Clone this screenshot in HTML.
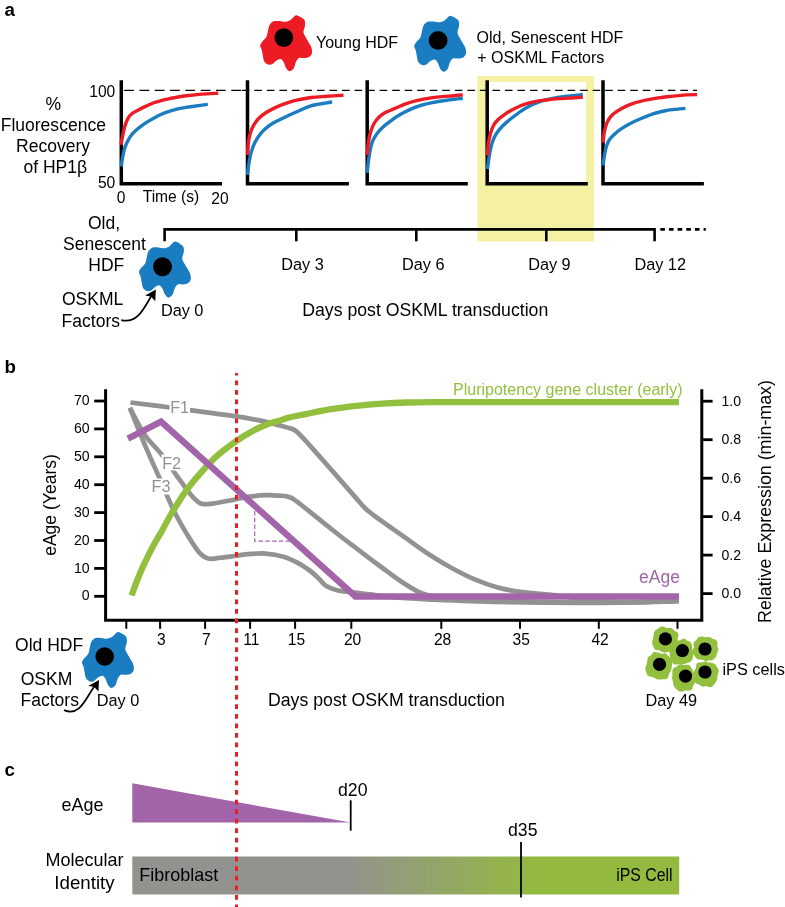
<!DOCTYPE html>
<html><head><meta charset="utf-8"><title>Figure</title>
<style>
html,body{margin:0;padding:0;background:#fff;}
svg{display:block;}
text{font-family:"Liberation Sans",Arial,Helvetica,sans-serif;fill:#000;}
.l{font-size:17.55px;}
.L{font-size:17.7px;}
.d{font-size:16.3px;}
.g{font-size:16px;}
.t{font-size:15.6px;}
.x{font-size:15px;}
.s{font-size:14.1px;}
.m{font-size:18.5px;}
.b{font-size:18.7px;font-weight:bold;}
</style></head><body>
<svg width="785" height="907" viewBox="0 0 785 907">
<rect width="785" height="907" fill="#fff"/>
<defs><path id="cell" d="M296.37 15.19C297.56 15.28 299.60 16.38 300.96 17.23C302.31 18.08 303.84 18.93 304.52 20.29C305.20 21.65 305.20 23.34 305.03 25.38C304.86 27.42 303.16 30.14 303.50 32.52C303.84 34.89 305.80 37.27 307.07 39.65C308.34 42.03 310.33 44.58 311.15 46.78C311.96 48.99 312.30 51.20 311.96 52.90C311.62 54.60 310.43 56.13 309.11 56.97C307.78 57.82 305.71 57.82 304.01 57.99C302.31 58.16 300.28 57.31 298.92 57.99C297.56 58.67 296.71 60.37 295.86 62.07C295.01 63.77 294.84 66.66 293.82 68.18C292.80 69.71 291.02 71.24 289.75 71.24C288.47 71.24 287.20 69.71 286.18 68.18C285.16 66.66 284.56 63.60 283.63 62.07C282.70 60.54 281.76 59.27 280.57 59.01C279.38 58.76 277.86 59.69 276.50 60.54C275.14 61.39 273.78 63.43 272.42 64.11C271.06 64.79 269.70 65.04 268.34 64.62C266.99 64.19 265.20 63.17 264.27 61.56C263.33 59.95 263.16 56.89 262.74 54.94C262.31 52.98 262.14 51.37 261.72 49.84C261.30 48.31 260.11 47.12 260.19 45.76C260.28 44.41 261.21 43.13 262.23 41.69C263.25 40.24 265.37 38.80 266.31 37.10C267.24 35.40 267.32 33.45 267.83 31.50C268.34 29.54 268.43 27.08 269.36 25.38C270.30 23.68 271.74 22.02 273.44 21.31C275.14 20.59 277.52 21.02 279.55 21.10C281.59 21.19 283.80 22.04 285.67 21.82C287.54 21.59 289.41 20.63 290.76 19.78C292.12 18.93 292.89 17.48 293.82 16.72C294.76 15.96 295.18 15.11 296.37 15.19Z"/></defs>

<text class="b" x="4.4" y="16.4">a</text>
<rect x="477.3" y="76" width="116.8" height="165.5" fill="#F5F1A2"/>
<rect x="487.2" y="81.9" width="98.8" height="101" fill="#fff"/>
<use href="#cell" fill="#ED1C24"/><circle cx="283.8" cy="37.6" r="9.4"/>
<use href="#cell" fill="#1A7CC1" transform="translate(154,0.5)"/><circle cx="438.1" cy="40.4" r="9.4"/>
<text class="g" x="316" y="47.6">Young HDF</text>
<text class="g" x="476.6" y="43.4">Old, Senescent HDF</text>
<text class="g" x="477.3" y="62.5">+ OSKML Factors</text>
<line x1="124.2" y1="90.3" x2="241.4" y2="90.3" stroke="#000" stroke-width="1.3" stroke-dasharray="9.7 5.6"/>
<line x1="241.8" y1="90.3" x2="697.1" y2="90.3" stroke="#000" stroke-width="1.3" stroke-dasharray="7.6 4.93"/>
<path d="M121.3 80.3V183.7H222" fill="none" stroke="#000" stroke-width="3.5"/><path d="M121.20 166.60C121.43 165.08 122.10 160.27 122.60 157.50C123.10 154.73 123.55 152.33 124.20 150.00C124.85 147.67 125.48 145.73 126.50 143.50C127.52 141.27 128.90 138.63 130.30 136.60C131.70 134.57 132.98 133.13 134.90 131.30C136.82 129.47 139.38 127.38 141.80 125.60C144.22 123.82 146.87 122.13 149.40 120.60C151.93 119.07 154.45 117.68 157.00 116.40C159.55 115.12 161.70 114.03 164.70 112.90C167.70 111.77 171.45 110.52 175.00 109.60C178.55 108.68 182.82 107.97 186.00 107.40C189.18 106.83 190.47 106.70 194.10 106.20C197.73 105.70 205.52 104.70 207.80 104.40" fill="none" stroke="#1A7CC1" stroke-width="3.4"/><path d="M121.10 144.70C121.35 143.23 121.97 139.03 122.60 135.90C123.23 132.77 124.00 128.83 124.90 125.90C125.80 122.97 126.85 120.33 128.00 118.30C129.15 116.27 130.15 115.03 131.80 113.70C133.45 112.37 135.60 111.52 137.90 110.30C140.20 109.08 143.05 107.62 145.60 106.40C148.15 105.18 150.65 103.95 153.20 103.00C155.75 102.05 158.35 101.40 160.90 100.70C163.45 100.00 166.15 99.32 168.50 98.80C170.85 98.28 172.02 98.10 175.00 97.60C177.98 97.10 181.95 96.38 186.40 95.80C190.85 95.22 196.40 94.53 201.70 94.10C207.00 93.67 215.45 93.35 218.20 93.20" fill="none" stroke="#ED1C24" stroke-width="3.4"/>
<path d="M247.5 80.3V183.7H348.9" fill="none" stroke="#000" stroke-width="3.5"/><path d="M247.45 174.90C247.69 173.00 248.24 167.38 248.90 163.50C249.56 159.62 250.40 155.08 251.40 151.60C252.40 148.12 253.57 145.33 254.90 142.60C256.23 139.87 257.75 137.43 259.40 135.20C261.05 132.97 262.57 131.18 264.80 129.20C267.03 127.22 269.82 125.12 272.80 123.30C275.78 121.48 278.90 120.13 282.70 118.30C286.50 116.47 290.88 114.37 295.60 112.30C300.32 110.23 305.82 107.47 311.00 105.90C316.18 104.33 323.18 103.58 326.70 102.90C330.22 102.22 331.20 101.98 332.10 101.80" fill="none" stroke="#1A7CC1" stroke-width="3.4"/><path d="M247.45 155.00C247.61 152.93 247.91 146.32 248.40 142.60C248.89 138.88 249.48 135.67 250.40 132.70C251.32 129.73 252.48 127.20 253.90 124.80C255.32 122.40 256.92 120.30 258.90 118.30C260.88 116.30 262.98 114.62 265.80 112.80C268.62 110.98 272.48 108.97 275.80 107.40C279.12 105.83 282.40 104.57 285.70 103.40C289.00 102.23 291.38 101.38 295.60 100.40C299.82 99.42 305.82 98.18 311.00 97.50C316.18 96.82 321.28 96.68 326.70 96.30C332.12 95.92 340.70 95.38 343.50 95.20" fill="none" stroke="#ED1C24" stroke-width="3.4"/>
<path d="M367.2 80.3V183.7H467.8" fill="none" stroke="#000" stroke-width="3.5"/><path d="M367.15 172.90C367.36 171.00 367.94 165.05 368.40 161.50C368.86 157.95 369.23 154.92 369.90 151.60C370.57 148.28 371.23 144.58 372.40 141.60C373.57 138.62 375.17 136.10 376.90 133.70C378.63 131.30 380.48 129.35 382.80 127.20C385.12 125.05 387.82 122.95 390.80 120.80C393.78 118.65 397.07 116.37 400.70 114.30C404.33 112.23 408.95 109.97 412.60 108.40C416.25 106.83 419.53 105.82 422.60 104.90C425.67 103.98 426.98 103.67 431.00 102.90C435.02 102.13 441.40 101.07 446.70 100.30C452.00 99.53 460.12 98.63 462.80 98.30" fill="none" stroke="#1A7CC1" stroke-width="3.4"/><path d="M367.15 155.00C367.36 152.93 367.86 146.32 368.40 142.60C368.94 138.88 369.48 135.83 370.40 132.70C371.32 129.57 372.48 126.37 373.90 123.80C375.32 121.23 377.08 119.13 378.90 117.30C380.72 115.47 382.32 114.20 384.80 112.80C387.28 111.40 390.32 110.38 393.80 108.90C397.28 107.42 401.73 105.32 405.70 103.90C409.67 102.48 413.38 101.40 417.60 100.40C421.82 99.40 427.43 98.48 431.00 97.90C434.57 97.32 435.10 97.27 439.00 96.90C442.90 96.53 450.43 96.03 454.40 95.70C458.37 95.37 461.40 95.03 462.80 94.90" fill="none" stroke="#ED1C24" stroke-width="3.4"/>
<path d="M487.2 80.3V183.7H587.8" fill="none" stroke="#000" stroke-width="3.5"/><path d="M487.45 168.90C487.69 167.17 488.41 161.72 488.90 158.50C489.39 155.28 489.73 152.58 490.40 149.60C491.07 146.62 491.82 143.42 492.90 140.60C493.98 137.78 495.25 135.18 496.90 132.70C498.55 130.22 500.48 128.02 502.80 125.70C505.12 123.38 507.82 121.20 510.80 118.80C513.78 116.40 517.40 113.53 520.70 111.30C524.00 109.07 527.28 107.05 530.60 105.40C533.92 103.75 537.20 102.52 540.60 101.40C544.00 100.28 546.65 99.55 551.00 98.70C555.35 97.85 561.40 97.00 566.70 96.30C572.00 95.60 580.12 94.80 582.80 94.50" fill="none" stroke="#1A7CC1" stroke-width="3.4"/><path d="M487.45 155.50C487.61 153.52 487.91 147.23 488.40 143.60C488.89 139.97 489.57 136.68 490.40 133.70C491.23 130.72 492.15 128.02 493.40 125.70C494.65 123.38 496.00 121.70 497.90 119.80C499.80 117.90 502.15 116.12 504.80 114.30C507.45 112.48 510.32 110.63 513.80 108.90C517.28 107.17 521.57 105.23 525.70 103.90C529.83 102.57 534.38 101.65 538.60 100.90C542.82 100.15 547.58 99.78 551.00 99.40C554.42 99.02 555.20 98.87 559.10 98.60C563.00 98.33 570.45 98.03 574.40 97.80C578.35 97.57 581.40 97.30 582.80 97.20" fill="none" stroke="#ED1C24" stroke-width="3.4"/>
<path d="M603 80.3V183.7H703.9" fill="none" stroke="#000" stroke-width="3.5"/><path d="M602.96 165.50C603.20 163.83 603.83 158.65 604.40 155.50C604.97 152.35 605.57 149.23 606.40 146.60C607.23 143.97 608.15 141.68 609.40 139.70C610.65 137.72 612.00 136.45 613.90 134.70C615.80 132.95 618.15 131.02 620.80 129.20C623.45 127.38 626.32 125.62 629.80 123.80C633.28 121.98 637.57 120.05 641.70 118.30C645.83 116.55 650.38 114.62 654.60 113.30C658.82 111.98 663.68 111.05 667.00 110.40C670.32 109.75 671.42 109.73 674.50 109.40C677.58 109.07 683.67 108.57 685.50 108.40" fill="none" stroke="#1A7CC1" stroke-width="3.4"/><path d="M602.96 142.60C603.20 140.78 603.74 135.00 604.40 131.70C605.06 128.40 605.82 125.37 606.90 122.80C607.98 120.23 609.23 118.20 610.90 116.30C612.57 114.40 614.58 112.97 616.90 111.40C619.22 109.83 621.83 108.32 624.80 106.90C627.77 105.48 631.05 104.07 634.70 102.90C638.35 101.73 643.05 100.70 646.70 99.90C650.35 99.10 653.22 98.62 656.60 98.10C659.98 97.58 661.98 97.33 667.00 96.80C672.02 96.27 681.68 95.27 686.70 94.90C691.72 94.53 695.37 94.65 697.10 94.60" fill="none" stroke="#ED1C24" stroke-width="3.4"/>
<text class="t" x="115.3" y="97.4" text-anchor="end">100</text>
<text class="t" x="115.3" y="187.8" text-anchor="end">50</text>
<text class="t" x="121.2" y="203.1" text-anchor="middle">0</text>
<text class="t" x="171" y="202.4" text-anchor="middle">Time (s)</text>
<text class="t" x="220" y="204.3" text-anchor="middle">20</text>
<text class="l" x="53.3" y="110.4" text-anchor="middle">%</text>
<text class="l" x="53.3" y="131.4" text-anchor="middle">Fluorescence</text>
<text class="l" x="53" y="151.6" text-anchor="middle">Recovery</text>
<text class="l" x="55.3" y="172.8" text-anchor="middle">of HP1β</text>
<path d="M164.6 241.3V229.4H654.6V241.3" fill="none" stroke="#000" stroke-width="2.6"/>
<line x1="296.3" y1="229" x2="296.3" y2="241.3" stroke="#000" stroke-width="2.6"/>
<line x1="416.3" y1="229" x2="416.3" y2="241.3" stroke="#000" stroke-width="2.6"/>
<line x1="546.3" y1="229" x2="546.3" y2="241.3" stroke="#000" stroke-width="2.6"/>
<line x1="660.3" y1="229.4" x2="705.8" y2="229.4" stroke="#000" stroke-width="2.7" stroke-dasharray="4.6 4.06"/>
<text class="d" x="302.5" y="270" text-anchor="middle">Day 3</text>
<text class="d" x="423.3" y="270" text-anchor="middle">Day 6</text>
<text class="d" x="549.4" y="270" text-anchor="middle">Day 9</text>
<text class="d" x="660.2" y="270" text-anchor="middle">Day 12</text>
<text class="d" x="160.9" y="316.1">Day 0</text>
<text class="L" x="302.2" y="316.3">Days post OSKML transduction</text>
<text class="l" x="104" y="228.8" text-anchor="middle">Old,</text>
<text class="l" x="104.5" y="249.8" text-anchor="middle">Senescent</text>
<text class="l" x="106.3" y="270.9" text-anchor="middle">HDF</text>
<text class="l" x="61.9" y="305.1">OSKML</text>
<text class="l" x="61.6" y="326.5">Factors</text>
<use href="#cell" fill="#1A7CC1" transform="translate(-121.2,226.4)"/><circle cx="162.5" cy="266.8" r="9.5"/>
<path d="M121.3 320.1C137 324 143.5 309.5 151.37 295.76" fill="none" stroke="#000" stroke-width="1.7"/><path d="M155.90 289.60L145.08 295.54L150.90 296.40L155.25 301.29Z"/>
<text class="b" x="4.4" y="373.2">b</text>
<path d="M130.50 402.50C135.42 403.12 149.85 404.90 160.00 406.20C170.15 407.50 178.65 408.60 191.40 410.30C204.15 412.00 224.23 414.52 236.50 416.40C248.77 418.28 257.75 420.07 265.00 421.60C272.25 423.13 275.83 424.50 280.00 425.60C284.17 426.70 287.33 427.27 290.00 428.20C292.67 429.13 293.50 429.20 296.00 431.20C298.50 433.20 299.33 434.02 305.00 440.20C310.67 446.38 321.67 458.85 330.00 468.30C338.33 477.75 349.33 490.42 355.00 496.90C360.67 503.38 361.63 504.72 364.00 507.20C366.37 509.68 367.20 510.17 369.20 511.80C371.20 513.43 372.53 514.47 376.00 517.00C379.47 519.53 385.02 523.47 390.00 527.00C394.98 530.53 399.43 533.67 405.90 538.20C412.37 542.73 421.17 549.23 428.80 554.20C436.43 559.17 444.05 563.80 451.70 568.00C459.35 572.20 467.05 576.15 474.70 579.40C482.35 582.65 490.73 585.53 497.60 587.50C504.47 589.47 508.83 590.15 515.90 591.20C522.97 592.25 532.65 593.00 540.00 593.80C547.35 594.60 550.00 594.83 560.00 596.00C570.00 597.17 586.67 599.83 600.00 600.80C613.33 601.77 626.83 601.80 640.00 601.80C653.17 601.80 672.50 600.97 679.00 600.80" fill="none" stroke="#929291" stroke-width="4.7"/>
<path d="M129.90 407.90C132.37 412.37 139.42 426.93 144.70 434.70C149.98 442.47 156.30 447.73 161.60 454.50C166.90 461.27 171.70 468.68 176.50 475.30C181.30 481.92 186.77 489.73 190.40 494.20C194.03 498.67 196.15 500.45 198.30 502.10C200.45 503.75 201.02 503.85 203.30 504.10C205.58 504.35 207.55 504.20 212.00 503.60C216.45 503.00 224.03 501.62 230.00 500.50C235.97 499.38 241.85 497.78 247.80 496.90C253.75 496.02 260.35 495.40 265.70 495.20C271.05 495.00 276.33 495.47 279.90 495.70C283.47 495.93 284.72 495.95 287.10 496.60C289.48 497.25 290.33 497.02 294.20 499.60C298.07 502.18 303.17 506.45 310.30 512.10C317.43 517.75 329.32 527.45 337.00 533.50C344.68 539.55 348.92 542.73 356.40 548.40C363.88 554.07 374.32 561.90 381.90 567.50C389.48 573.10 395.60 577.83 401.90 582.00C408.20 586.17 414.60 590.10 419.70 592.50C424.80 594.90 427.45 595.40 432.50 596.40C437.55 597.40 442.08 597.90 450.00 598.50C457.92 599.10 461.67 599.37 480.00 600.00C498.33 600.63 533.33 601.92 560.00 602.30C586.67 602.68 620.17 602.55 640.00 602.30C659.83 602.05 672.50 601.05 679.00 600.80" fill="none" stroke="#929291" stroke-width="4.7"/>
<path d="M129.90 407.90C132.37 414.02 139.75 432.87 144.70 444.60C149.65 456.33 154.63 467.07 159.60 478.30C164.57 489.53 169.37 501.75 174.50 512.00C179.63 522.25 186.10 532.85 190.40 539.80C194.70 546.75 197.33 550.57 200.30 553.70C203.27 556.83 205.58 557.83 208.20 558.60C210.82 559.37 212.37 558.62 216.00 558.30C219.63 557.98 224.70 557.38 230.00 556.70C235.30 556.02 241.85 554.72 247.80 554.20C253.75 553.68 259.75 553.18 265.70 553.60C271.65 554.02 278.15 555.15 283.50 556.70C288.85 558.25 293.33 560.52 297.80 562.90C302.27 565.28 306.73 568.32 310.30 571.00C313.87 573.68 316.53 576.48 319.20 579.00C321.87 581.52 323.33 584.23 326.30 586.10C329.27 587.97 332.25 589.10 337.00 590.20C341.75 591.30 349.30 592.02 354.80 592.70C360.30 593.38 364.13 593.58 370.00 594.30C375.87 595.02 380.50 596.17 390.00 597.00C399.50 597.83 408.67 598.47 427.00 599.30C445.33 600.13 471.17 601.42 500.00 602.00C528.83 602.58 570.17 602.97 600.00 602.80C629.83 602.63 665.83 601.30 679.00 601.00" fill="none" stroke="#929291" stroke-width="4.7"/>
<rect x="169.5" y="398.5" width="20.5" height="16" fill="#fff"/>
<rect x="161.5" y="454.5" width="21" height="16" fill="#fff"/>
<rect x="150.5" y="478.5" width="21.5" height="16" fill="#fff"/>
<text x="170.2" y="412.5" font-size="16.2" style="fill:#929291">F1</text>
<text x="162.2" y="468.6" font-size="16.2" style="fill:#929291">F2</text>
<text x="151.6" y="492.2" font-size="16.2" style="fill:#929291">F3</text>
<path d="M131.60 595.50C132.45 593.17 134.58 586.80 136.70 581.50C138.82 576.20 141.55 569.63 144.30 563.70C147.05 557.77 150.23 551.42 153.20 545.90C156.17 540.38 159.30 535.58 162.10 530.60C164.90 525.62 166.13 522.47 170.00 516.00C173.87 509.53 180.20 498.97 185.30 491.80C190.40 484.63 195.50 478.82 200.60 473.00C205.70 467.18 209.92 462.25 215.90 456.90C221.88 451.55 230.13 445.35 236.50 440.90C242.87 436.45 248.62 433.10 254.10 430.20C259.58 427.30 265.08 425.12 269.40 423.50C273.72 421.88 276.57 421.53 280.00 420.50C283.43 419.47 285.75 418.37 290.00 417.30C294.25 416.23 298.67 415.45 305.50 414.10C312.33 412.75 322.52 410.57 331.00 409.20C339.48 407.83 347.92 406.82 356.40 405.90C364.88 404.98 373.40 404.27 381.90 403.70C390.40 403.13 398.90 402.77 407.40 402.50C415.90 402.23 420.80 402.17 432.90 402.10C445.00 402.03 438.98 402.10 480.00 402.10C521.02 402.10 645.83 402.10 679.00 402.10" fill="none" stroke="#92C03E" stroke-width="6.3"/>
<path d="M254.7 511V541.2H291" fill="none" stroke="#A265AA" stroke-width="1.2" stroke-dasharray="4.5 2.3"/>
<path d="M127.9 438.7L161 421.6L355.5 596.5H679" fill="none" stroke="#A265AA" stroke-width="6.4" stroke-linejoin="miter"/>
<path d="M105.6 389.2V620.3H701.8V389.3" fill="none" stroke="#000" stroke-width="3" stroke-linejoin="miter"/>
<line x1="94.2" y1="596.3" x2="105" y2="596.3" stroke="#000" stroke-width="2.8"/>
<text class="s" x="89.6" y="600.4" text-anchor="end">0</text>
<line x1="94.2" y1="568.4" x2="105" y2="568.4" stroke="#000" stroke-width="2.8"/>
<text class="s" x="89.6" y="572.5" text-anchor="end">10</text>
<line x1="94.2" y1="540.5" x2="105" y2="540.5" stroke="#000" stroke-width="2.8"/>
<text class="s" x="89.6" y="544.6" text-anchor="end">20</text>
<line x1="94.2" y1="512.6" x2="105" y2="512.6" stroke="#000" stroke-width="2.8"/>
<text class="s" x="89.6" y="516.7" text-anchor="end">30</text>
<line x1="94.2" y1="484.7" x2="105" y2="484.7" stroke="#000" stroke-width="2.8"/>
<text class="s" x="89.6" y="488.8" text-anchor="end">40</text>
<line x1="94.2" y1="456.8" x2="105" y2="456.8" stroke="#000" stroke-width="2.8"/>
<text class="s" x="89.6" y="460.9" text-anchor="end">50</text>
<line x1="94.2" y1="428.9" x2="105" y2="428.9" stroke="#000" stroke-width="2.8"/>
<text class="s" x="89.6" y="433.0" text-anchor="end">60</text>
<line x1="94.2" y1="401.0" x2="105" y2="401.0" stroke="#000" stroke-width="2.8"/>
<text class="s" x="89.6" y="405.1" text-anchor="end">70</text>
<line x1="702" y1="593.6" x2="712.6" y2="593.6" stroke="#000" stroke-width="2.8"/>
<text class="s" x="721.4" y="598.0">0.0</text>
<line x1="702" y1="555.1" x2="712.6" y2="555.1" stroke="#000" stroke-width="2.8"/>
<text class="s" x="721.4" y="559.5">0.2</text>
<line x1="702" y1="516.6" x2="712.6" y2="516.6" stroke="#000" stroke-width="2.8"/>
<text class="s" x="721.4" y="521.0">0.4</text>
<line x1="702" y1="478.2" x2="712.6" y2="478.2" stroke="#000" stroke-width="2.8"/>
<text class="s" x="721.4" y="482.6">0.6</text>
<line x1="702" y1="439.7" x2="712.6" y2="439.7" stroke="#000" stroke-width="2.8"/>
<text class="s" x="721.4" y="444.1">0.8</text>
<line x1="702" y1="401.2" x2="712.6" y2="401.2" stroke="#000" stroke-width="2.8"/>
<text class="s" x="721.4" y="405.6">1.0</text>
<line x1="126.3" y1="620" x2="126.3" y2="628.8" stroke="#000" stroke-width="2"/>
<line x1="160.1" y1="620" x2="160.1" y2="628.8" stroke="#000" stroke-width="2"/>
<text class="t" x="161.4" y="644.7" text-anchor="middle">3</text>
<line x1="205.1" y1="620" x2="205.1" y2="628.8" stroke="#000" stroke-width="2"/>
<text class="t" x="206.4" y="644.7" text-anchor="middle">7</text>
<line x1="250.1" y1="620" x2="250.1" y2="628.8" stroke="#000" stroke-width="2"/>
<text class="t" x="251.4" y="644.7" text-anchor="middle">11</text>
<line x1="295.1" y1="620" x2="295.1" y2="628.8" stroke="#000" stroke-width="2"/>
<text class="t" x="296.4" y="644.7" text-anchor="middle">15</text>
<line x1="351.3" y1="620" x2="351.3" y2="628.8" stroke="#000" stroke-width="2"/>
<text class="t" x="352.6" y="644.7" text-anchor="middle">20</text>
<line x1="441.3" y1="620" x2="441.3" y2="628.8" stroke="#000" stroke-width="2"/>
<text class="t" x="442.6" y="644.7" text-anchor="middle">28</text>
<line x1="520.0" y1="620" x2="520.0" y2="628.8" stroke="#000" stroke-width="2"/>
<text class="t" x="521.3" y="644.7" text-anchor="middle">35</text>
<line x1="598.8" y1="620" x2="598.8" y2="628.8" stroke="#000" stroke-width="2"/>
<text class="t" x="600.1" y="644.7" text-anchor="middle">42</text>
<line x1="677.5" y1="620" x2="677.5" y2="628.8" stroke="#000" stroke-width="2"/>
<text class="l" transform="translate(55.8,505) rotate(-90)" text-anchor="middle">eAge (Years)</text>
<text class="L" style="font-size:17.85px" transform="translate(771,501.5) rotate(-90)" text-anchor="middle">Relative Expression (min-max)</text>
<text class="g" x="682.5" y="395" text-anchor="end" style="fill:#92C03E">Pluripotency gene cluster (early)</text>
<text class="l" x="680" y="582.5" text-anchor="end" style="fill:#A265AA">eAge</text>
<text class="L" x="268" y="706">Days post OSKM transduction</text>
<text class="l" x="15" y="650.7">Old HDF</text>
<text class="l" x="20.7" y="685.1">OSKM</text>
<text class="l" x="20.5" y="706">Factors</text>
<text class="d" x="96.7" y="705.7">Day 0</text>
<text class="d" x="645.5" y="705.8">Day 49</text>
<text class="d" x="722.5" y="675">iPS cells</text>
<use href="#cell" fill="#1A7CC1" transform="translate(-178.2,616.8)"/><circle cx="104.7" cy="656.5" r="9.3"/>
<path d="M64.2 710.1C80 717 85.7 698.1 94.47 686.15" fill="none" stroke="#000" stroke-width="1.7"/><path d="M99.00 679.90L88.22 685.92L94.00 686.80L98.43 691.59Z"/>
<path d="M677.86 642.44C677.78 643.11 677.67 643.83 677.37 644.42C677.06 645.02 676.39 645.43 676.04 646.01C675.69 646.59 675.55 647.25 675.28 647.92C675.02 648.58 674.81 649.35 674.44 650.01C674.07 650.66 673.65 651.43 673.06 651.85C672.47 652.27 671.66 652.51 670.89 652.54C670.13 652.56 669.21 652.07 668.48 652.00C667.75 651.92 667.16 651.94 666.50 652.08C665.83 652.22 665.17 652.84 664.51 652.84C663.86 652.84 663.21 652.34 662.58 652.09C661.95 651.85 661.31 651.69 660.73 651.39C660.15 651.09 659.77 650.51 659.10 650.31C658.43 650.12 657.48 650.38 656.73 650.21C655.97 650.04 655.08 649.82 654.57 649.32C654.07 648.82 654.02 647.88 653.71 647.21C653.40 646.55 652.98 645.97 652.71 645.31C652.45 644.65 652.19 643.95 652.13 643.25C652.07 642.55 652.23 641.79 652.34 641.10C652.45 640.41 652.63 639.75 652.80 639.10C652.96 638.45 653.22 637.87 653.33 637.23C653.45 636.59 653.40 635.92 653.50 635.26C653.60 634.59 653.73 633.91 653.93 633.24C654.13 632.57 654.33 631.84 654.69 631.24C655.05 630.64 655.53 630.06 656.09 629.63C656.64 629.21 657.41 629.06 658.02 628.69C658.62 628.32 659.09 627.76 659.70 627.40C660.31 627.04 660.97 626.63 661.66 626.52C662.34 626.42 663.14 626.57 663.84 626.77C664.53 626.98 665.19 627.54 665.83 627.75C666.47 627.97 667.04 628.03 667.68 628.07C668.33 628.11 669.03 627.95 669.71 627.99C670.40 628.03 671.19 628.04 671.80 628.31C672.42 628.58 672.91 629.15 673.42 629.60C673.93 630.05 674.27 630.63 674.88 631.03C675.49 631.44 676.54 631.54 677.09 632.03C677.64 632.52 677.97 633.27 678.17 633.98C678.37 634.68 678.41 635.49 678.29 636.24C678.17 636.99 677.51 637.77 677.44 638.46C677.37 639.16 677.78 639.75 677.85 640.41C677.92 641.08 677.94 641.77 677.86 642.44Z" fill="#92C03E"/>
<path d="M692.82 649.93C692.97 650.53 692.94 651.17 692.98 651.79C693.03 652.42 693.07 653.04 693.10 653.69C693.12 654.33 693.20 655.02 693.15 655.68C693.09 656.35 692.90 656.99 692.76 657.69C692.62 658.38 692.65 659.24 692.33 659.87C692.02 660.49 691.45 661.03 690.89 661.46C690.33 661.88 689.63 662.20 688.96 662.44C688.30 662.68 687.53 662.69 686.89 662.90C686.25 663.10 685.73 663.46 685.12 663.67C684.51 663.88 683.88 664.03 683.24 664.16C682.61 664.29 681.96 664.46 681.32 664.45C680.68 664.45 680.06 664.15 679.39 664.14C678.73 664.13 678.05 664.32 677.31 664.39C676.58 664.45 675.69 664.69 674.98 664.55C674.27 664.41 673.52 664.05 673.03 663.52C672.55 662.99 672.34 662.06 672.06 661.36C671.77 660.67 671.60 659.98 671.34 659.36C671.07 658.74 670.72 658.23 670.48 657.65C670.23 657.07 669.96 656.48 669.84 655.88C669.73 655.27 669.83 654.61 669.79 653.99C669.76 653.38 669.73 652.81 669.66 652.20C669.59 651.59 669.53 651.01 669.39 650.35C669.24 649.69 668.90 648.97 668.80 648.24C668.69 647.51 668.53 646.63 668.77 645.99C669.02 645.35 669.77 644.92 670.27 644.41C670.76 643.91 671.22 643.40 671.72 642.94C672.23 642.48 672.73 642.01 673.30 641.65C673.87 641.28 674.49 640.96 675.12 640.76C675.76 640.55 676.45 640.43 677.11 640.41C677.77 640.38 678.46 640.71 679.09 640.61C679.72 640.52 680.24 640.14 680.89 639.83C681.53 639.53 682.27 638.90 682.96 638.78C683.65 638.67 684.40 638.85 685.04 639.12C685.67 639.39 686.14 640.08 686.76 640.40C687.37 640.73 688.13 640.76 688.74 641.08C689.36 641.40 689.97 641.82 690.46 642.31C690.94 642.81 691.38 643.41 691.65 644.05C691.93 644.69 692.02 645.46 692.09 646.15C692.17 646.85 691.96 647.59 692.09 648.22C692.21 648.85 692.67 649.34 692.82 649.93Z" fill="#92C03E"/>
<path d="M718.11 650.57C717.96 651.21 717.63 651.82 717.39 652.44C717.16 653.05 716.91 653.62 716.70 654.26C716.50 654.90 716.43 655.63 716.17 656.27C715.91 656.91 715.59 657.58 715.15 658.12C714.71 658.65 714.12 659.09 713.54 659.46C712.95 659.84 712.33 660.24 711.65 660.36C710.96 660.48 710.09 660.14 709.42 660.18C708.74 660.22 708.20 660.43 707.58 660.61C706.97 660.79 706.33 661.33 705.72 661.28C705.10 661.22 704.48 660.53 703.88 660.30C703.28 660.06 702.72 660.00 702.11 659.87C701.51 659.74 700.96 659.58 700.28 659.51C699.60 659.44 698.68 659.67 698.04 659.46C697.39 659.24 696.93 658.66 696.41 658.21C695.90 657.76 695.39 657.28 694.94 656.76C694.49 656.23 694.07 655.66 693.73 655.06C693.39 654.45 693.13 653.79 692.91 653.14C692.68 652.48 692.37 651.80 692.38 651.11C692.40 650.43 692.71 649.67 692.98 649.02C693.25 648.36 693.93 647.83 694.02 647.19C694.11 646.54 693.59 645.83 693.53 645.14C693.46 644.44 693.45 643.67 693.64 643.02C693.83 642.36 694.23 641.73 694.67 641.22C695.12 640.70 695.84 640.44 696.31 639.92C696.77 639.41 696.98 638.62 697.47 638.14C697.96 637.67 698.65 637.38 699.28 637.10C699.90 636.81 700.55 636.48 701.24 636.42C701.92 636.36 702.70 636.58 703.37 636.73C704.05 636.88 704.67 637.27 705.30 637.32C705.93 637.37 706.53 637.06 707.15 637.05C707.77 637.04 708.39 637.19 709.02 637.28C709.66 637.37 710.38 637.36 710.96 637.61C711.53 637.87 711.88 638.52 712.49 638.81C713.10 639.11 713.92 639.10 714.61 639.37C715.29 639.64 716.15 639.91 716.61 640.43C717.08 640.94 717.24 641.77 717.39 642.48C717.55 643.18 717.53 643.95 717.54 644.65C717.56 645.35 717.37 646.03 717.49 646.69C717.61 647.34 718.19 647.93 718.29 648.58C718.39 649.22 718.26 649.93 718.11 650.57Z" fill="#92C03E"/>
<path d="M671.29 669.29C671.11 669.94 670.96 670.61 670.66 671.19C670.36 671.78 669.81 672.21 669.49 672.81C669.17 673.41 668.98 674.04 668.73 674.77C668.49 675.49 668.39 676.44 668.02 677.13C667.64 677.83 667.13 678.59 666.48 678.96C665.83 679.32 664.89 679.26 664.12 679.35C663.35 679.43 662.60 679.45 661.86 679.46C661.12 679.46 660.41 679.37 659.70 679.38C658.99 679.38 658.25 679.65 657.58 679.49C656.91 679.34 656.28 678.78 655.67 678.44C655.05 678.10 654.54 677.69 653.91 677.44C653.27 677.20 652.60 677.12 651.88 676.96C651.16 676.80 650.31 676.74 649.58 676.47C648.84 676.20 647.95 675.90 647.46 675.35C646.96 674.80 646.84 673.89 646.59 673.17C646.34 672.44 646.17 671.72 645.96 671.01C645.75 670.29 645.37 669.62 645.33 668.91C645.29 668.19 645.54 667.40 645.73 666.70C645.92 665.99 646.25 665.33 646.49 664.68C646.72 664.04 646.99 663.47 647.13 662.82C647.26 662.17 647.24 661.51 647.30 660.79C647.36 660.07 647.28 659.23 647.49 658.52C647.69 657.82 648.02 657.07 648.53 656.57C649.03 656.07 649.93 655.97 650.50 655.51C651.07 655.04 651.39 654.29 651.94 653.76C652.48 653.24 653.08 652.65 653.76 652.35C654.44 652.06 655.26 651.91 656.02 651.99C656.78 652.07 657.59 652.61 658.31 652.83C659.03 653.06 659.67 653.19 660.33 653.34C660.99 653.50 661.56 653.75 662.28 653.75C663.00 653.76 663.91 653.26 664.63 653.36C665.34 653.46 665.99 653.91 666.58 654.33C667.16 654.75 667.59 655.38 668.13 655.86C668.66 656.35 669.16 656.81 669.79 657.26C670.42 657.71 671.45 657.96 671.91 658.55C672.36 659.14 672.44 660.04 672.53 660.81C672.61 661.57 672.53 662.39 672.43 663.14C672.34 663.90 672.07 664.62 671.95 665.32C671.83 666.02 671.82 666.67 671.71 667.34C671.59 668.00 671.46 668.65 671.29 669.29Z" fill="#92C03E"/>
<path d="M693.79 676.51C693.76 677.10 693.84 677.60 694.00 678.19C694.17 678.78 694.64 679.40 694.79 680.04C694.94 680.69 694.97 681.38 694.92 682.03C694.86 682.69 694.76 683.41 694.47 683.99C694.18 684.57 693.47 684.88 693.16 685.51C692.86 686.14 692.91 687.04 692.63 687.77C692.36 688.49 692.06 689.40 691.50 689.86C690.94 690.31 690.03 690.34 689.29 690.49C688.55 690.63 687.81 690.71 687.09 690.71C686.36 690.72 685.65 690.38 684.96 690.52C684.27 690.66 683.66 691.36 682.96 691.54C682.27 691.71 681.51 691.67 680.81 691.57C680.10 691.48 679.38 691.25 678.74 690.95C678.10 690.65 677.49 690.21 676.94 689.77C676.40 689.32 675.95 688.76 675.46 688.27C674.98 687.78 674.37 687.42 674.05 686.84C673.72 686.26 673.68 685.43 673.52 684.78C673.36 684.12 673.23 683.52 673.11 682.92C672.99 682.32 672.91 681.75 672.80 681.18C672.69 680.61 672.64 680.07 672.47 679.51C672.29 678.95 671.73 678.37 671.74 677.80C671.75 677.23 672.42 676.71 672.51 676.11C672.60 675.52 672.32 674.89 672.29 674.24C672.26 673.59 672.27 672.92 672.32 672.21C672.37 671.51 672.42 670.74 672.61 670.02C672.81 669.31 672.97 668.40 673.48 667.93C673.98 667.46 674.97 667.49 675.63 667.19C676.28 666.88 676.83 666.55 677.41 666.12C677.99 665.70 678.46 664.91 679.11 664.62C679.76 664.33 680.57 664.32 681.29 664.39C682.01 664.46 682.71 665.00 683.43 665.05C684.14 665.09 684.84 664.68 685.56 664.64C686.27 664.60 687.02 664.69 687.73 664.83C688.45 664.97 689.31 665.01 689.86 665.47C690.41 665.93 690.64 666.97 691.03 667.61C691.41 668.26 691.84 668.76 692.15 669.36C692.46 669.96 692.60 670.64 692.90 671.21C693.20 671.77 693.75 672.18 693.95 672.75C694.16 673.33 694.17 674.03 694.14 674.65C694.11 675.28 693.81 675.92 693.79 676.51Z" fill="#92C03E"/>
<path d="M717.46 676.22C717.37 676.84 717.38 677.45 717.32 678.10C717.25 678.74 717.27 679.47 717.05 680.08C716.83 680.68 716.31 681.14 715.97 681.71C715.63 682.29 715.39 682.96 714.99 683.51C714.60 684.07 714.08 684.52 713.60 685.05C713.11 685.58 712.71 686.38 712.09 686.69C711.47 687.00 710.61 686.91 709.89 686.91C709.16 686.91 708.44 686.87 707.76 686.72C707.08 686.57 706.45 686.04 705.79 686.01C705.14 685.98 704.49 686.46 703.83 686.53C703.16 686.59 702.43 686.59 701.80 686.39C701.18 686.19 700.65 685.69 700.07 685.35C699.50 685.01 698.96 684.67 698.35 684.36C697.73 684.05 696.95 683.90 696.37 683.50C695.79 683.11 695.28 682.56 694.86 682.00C694.45 681.43 694.04 680.80 693.87 680.12C693.70 679.43 693.78 678.62 693.86 677.91C693.93 677.20 694.36 676.49 694.33 675.84C694.30 675.19 693.77 674.61 693.69 673.99C693.61 673.36 693.73 672.68 693.87 672.06C694.01 671.44 694.24 670.82 694.53 670.25C694.82 669.69 695.35 669.26 695.61 668.68C695.87 668.09 695.97 667.48 696.11 666.74C696.24 666.01 696.10 664.93 696.42 664.28C696.74 663.63 697.40 663.14 698.04 662.84C698.69 662.53 699.56 662.57 700.28 662.47C700.99 662.37 701.68 662.38 702.34 662.24C703.00 662.11 703.59 661.78 704.24 661.65C704.88 661.51 705.58 661.28 706.22 661.41C706.86 661.54 707.45 662.23 708.07 662.43C708.70 662.64 709.34 662.52 709.99 662.61C710.64 662.70 711.30 662.81 711.97 662.97C712.63 663.14 713.34 663.32 713.98 663.61C714.63 663.90 715.38 664.19 715.82 664.72C716.27 665.24 716.31 666.12 716.66 666.73C717.01 667.35 717.57 667.79 717.92 668.39C718.26 668.98 718.63 669.63 718.73 670.31C718.83 670.98 718.65 671.76 718.50 672.44C718.36 673.13 718.04 673.78 717.87 674.41C717.69 675.04 717.55 675.61 717.46 676.22Z" fill="#92C03E"/>
<circle cx="665.4" cy="638.9" r="6.6"/>
<circle cx="682.4" cy="650.6" r="6.6"/>
<circle cx="705" cy="649" r="6.6"/>
<circle cx="659.5" cy="664.4" r="6.6"/>
<circle cx="685.5" cy="676.1" r="6.6"/>
<circle cx="705" cy="672" r="6.6"/>
<text class="b" x="4.4" y="776.2">c</text>
<path d="M132.3 783.3V822.6H350.7Z" fill="#A265AA"/>
<defs><linearGradient id="gg" x1="0" x2="1" y1="0" y2="0">
<stop offset="0" stop-color="#92928F"/><stop offset="0.385" stop-color="#92928F"/><stop offset="0.745" stop-color="#93BA3E"/><stop offset="1" stop-color="#93BA3E"/></linearGradient></defs>
<rect x="132.3" y="856.5" width="546.9" height="38" fill="url(#gg)"/>
<line x1="350.7" y1="800.3" x2="350.7" y2="830.7" stroke="#000" stroke-width="1.8"/>
<line x1="521" y1="842" x2="521" y2="897.5" stroke="#000" stroke-width="1.8"/>
<text class="m" x="338" y="796.3" textLength="29.5" lengthAdjust="spacingAndGlyphs">d20</text>
<text class="m" x="508" y="835.6" textLength="29.5" lengthAdjust="spacingAndGlyphs">d35</text>
<text class="m" x="61.5" y="810.5" textLength="42" lengthAdjust="spacingAndGlyphs">eAge</text>
<text class="m" x="45.5" y="865.5" textLength="78" lengthAdjust="spacingAndGlyphs">Molecular</text>
<text class="m" x="54.3" y="889.2" textLength="60.3" lengthAdjust="spacingAndGlyphs">Identity</text>
<text class="m" x="139.2" y="880.6" textLength="79" lengthAdjust="spacingAndGlyphs">Fibroblast</text>
<text class="m" x="616.3" y="880.6" textLength="56.3" lengthAdjust="spacingAndGlyphs">iPS Cell</text>
<line x1="236.5" y1="373" x2="236.5" y2="907" stroke="#ED1C24" stroke-width="3" stroke-dasharray="4.75 4.778" stroke-dashoffset="2.13"/>
</svg></body></html>
